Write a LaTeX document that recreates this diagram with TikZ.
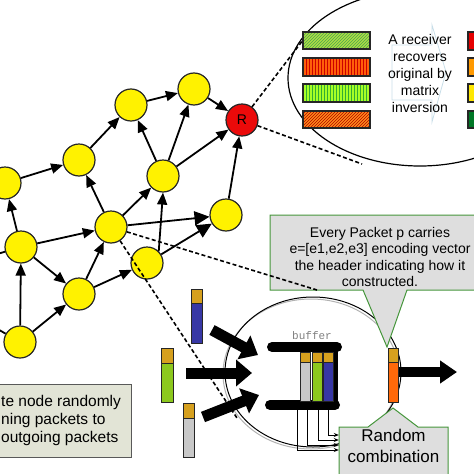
\documentclass[tikz,border=0pt]{standalone}
\usepackage{fontspec}
\setmainfont{Liberation Sans}
\setmonofont{Liberation Mono}
\usetikzlibrary{arrows.meta,patterns}

\definecolor{nodeyellow}{RGB}{255,242,0}
\definecolor{rcvred}{RGB}{235,10,10}
\definecolor{pgold}{RGB}{214,160,30}
\definecolor{pblue}{RGB}{55,55,165}
\definecolor{pgreen}{RGB}{140,200,30}
\definecolor{pgray}{RGB}{200,200,200}
\definecolor{porange}{RGB}{255,105,10}
\definecolor{callfill}{RGB}{222,222,222}
\definecolor{callgreen}{RGB}{70,150,60}
\definecolor{notefill}{RGB}{226,228,214}
\definecolor{faintblue}{RGB}{200,222,232}

\begin{document}
\begin{tikzpicture}[x=1pt, y=-1pt,
  nd/.style={circle, draw=black!85, fill=nodeyellow, line width=1.2pt, minimum size=32pt, inner sep=0pt},
  edge/.style={line width=1.8pt, -{Triangle[length=12pt,width=10pt]}},
  bigedge/.style={line width=1.8pt, -{Triangle[length=15pt,width=14pt]}},
  zoomline/.style={line width=1.6pt, dash pattern=on 4pt off 2.5pt},
  pkt/.style={draw=black!85, line width=0.8pt},
  fat/.style={line width=11pt, -{Triangle[length=16pt,width=26pt]}},
  bus/.style={line width=0.9pt, -{Stealth[length=5pt,width=4pt]}},
  bar/.style={draw=black!85, line width=1.2pt}]

\useasboundingbox (0,0) rectangle (474,474);

% zoom views
\draw[line width=1.2pt] (420,78) ellipse [x radius=132pt, y radius=88pt];
\draw[gray!60, line width=1pt] (311,374) ellipse [x radius=88pt, y radius=75pt];
\draw[line width=1pt] (313,372) ellipse [x radius=88pt, y radius=75pt];

% decoded packets in the receiver view
\draw[faintblue, line width=0.8pt] (392,45) -- (432,45) -- (432,25) -- (446,72) -- (432,122) -- (432,100) -- (392,100) -- cycle;
\fill[yellow!60!green!80] (303,32) rectangle (370,49);
\fill[pattern=north east lines, pattern color=green!50!black!70] (303,32) rectangle (370,49);
\draw[bar] (303,32) rectangle (370,49);
\fill[porange!90!red] (303,58) rectangle (370,76);
\fill[pattern=vertical lines, pattern color=red!80!black] (303,58) rectangle (370,76);
\draw[bar] (303,58) rectangle (370,76);
\fill[green!40!yellow!85] (303,84) rectangle (370,102);
\fill[pattern=vertical lines, pattern color=green!60!black!80] (303,84) rectangle (370,102);
\draw[bar] (303,84) rectangle (370,102);
\fill[orange!90] (303,111) rectangle (370,128);
\fill[pattern=north east lines, pattern color=red!70!black] (303,111) rectangle (370,128);
\draw[bar] (303,111) rectangle (370,128);
\node[align=center, font=\fontsize{14}{17}\selectfont] (inv) at (420,73) {A receiver\\recovers\\original by\\matrix\\inversion};
\draw[bar, fill=red!90!black] (468,32) rectangle (482,50);
\draw[bar, fill=orange!80!yellow] (468,58) rectangle (482,76);
\draw[bar, fill=yellow!90!orange] (468,84) rectangle (482,102);
\draw[bar, fill=green!45!black!70!teal] (468,111) rectangle (482,128);

% callout above the node view
\draw[callgreen, fill=callfill, line width=1pt] (270,215) -- (484,215) -- (484,290) -- (407,290) -- (387,347) -- (363,290) -- (270,290) -- cycle;
\node[align=center, font=\fontsize{14}{16.5}\selectfont] (hdr) at (380,257) {Every Packet p carries\\e=[e1,e2,e3] encoding vector\\the header indicating how it\\constructed.};

% network
\node[nd] (a) at (5,183) {};
\node[nd] (b) at (79,160) {};
\node[nd] (c) at (131,105) {};
\node[nd] (d) at (194,89) {};
\node[nd, fill=rcvred, font=\fontsize{14}{14}\selectfont] (r) at (242,120) {R};
\node[nd] (e) at (163,176) {};
\node[nd] (f) at (111,227) {};
\node[nd] (g) at (226,215) {};
\node[nd] (h) at (21,247) {};
\node[nd] (k) at (147,263) {};
\node[nd] (m) at (79,294) {};
\node[nd] (n) at (20,342) {};
\coordinate (l1) at (-30,262);
\coordinate (l2) at (-25,316);

\draw[edge] (a) -- (b);
\draw[edge] (b) -- (c);
\draw[edge] (c) -- (d);
\draw[edge] (d) -- (r);
\draw[edge] (e) -- (c);
\draw[edge] (e) -- (d);
\draw[edge] (e) -- (r);
\draw[edge] (g) -- (r);
\draw[edge] (f) -- (b);
\draw[edge] (f) -- (e);
\draw[edge] (k.north east) -- (e.south);
\draw[bigedge] (f) -- (g);
\draw[bigedge] (k) -- (g);
\draw[edge] (h) -- (f);
\draw[edge] (h) -- (m);
\draw[edge] (m) -- (f);
\draw[edge] (m) -- (k);
\draw[edge] (n) -- (h);
\draw[edge] (n) -- (m);
\draw[edge] (h) -- (a);
\draw[line width=1.8pt] (l1) -- (h);
\draw[line width=1.8pt] (l2) -- (n);

% dashed zoom lines
\coordinate (zr1) at (303,40);
\coordinate (zr2) at (362,164);
\coordinate (zf1) at (317,290);
\coordinate (zf2) at (237,418);
\draw[zoomline] (r) -- (zr1);
\draw[zoomline] (r) -- (zr2);
\draw[zoomline] (f) -- (zf1);
\draw[zoomline] (f) -- (zf2);

% incoming packets
\draw[pkt, fill=pblue] (191,289) rectangle (202,343);
\draw[pkt, fill=pgold] (191,289) rectangle (202,303);
\draw[pkt, fill=pgreen] (161,348) rectangle (173,402);
\draw[pkt, fill=pgold] (161,348) rectangle (173,363);
\draw[pkt, fill=pgray] (183,403) rectangle (194,457);
\draw[pkt, fill=pgold] (183,403) rectangle (194,418);
\draw[fat] (212,330) -- (258,355);
\draw[fat] (186,373) -- (252,373);
\draw[fat] (203,417) -- (259,395);

% buffer
\node[font=\ttfamily\fontsize{11}{11}\selectfont, text=gray] (buf) at (312,336) {buffer};
\draw[line width=10pt, line cap=round] (272,347) -- (337,347);
\draw[line width=10pt, line cap=round] (270,405) -- (335,405);
\draw[line width=6pt] (335,347) -- (335,405);
\draw[pkt, fill=pgray] (300,352) rectangle (310,401);
\draw[pkt, fill=pgold] (300,352) rectangle (310,362);
\draw[pkt, fill=pgreen] (312,352) rectangle (322,401);
\draw[pkt, fill=pgold] (312,352) rectangle (322,362);
\draw[pkt, fill=pblue] (323,352) rectangle (333,401);
\draw[pkt, fill=pgold] (323,352) rectangle (333,362);

% outgoing packet
\draw[pkt, fill=porange] (388,348) rectangle (398,402);
\draw[pkt, fill=pgold] (388,348) rectangle (398,362);
\draw[line width=10pt, -{Triangle[length=17pt,width=22pt]}] (399,372) -- (457,372);

% random combination
\draw[callgreen, fill=callfill, line width=1pt] (339,480) -- (339,427) -- (368,427) -- (393,408) -- (418,427) -- (448,427) -- (448,480);
\node[align=center, minimum width=109pt, inner sep=0pt, font=\fontsize{17}{21}\selectfont] (rc) at (393.5,446) {Random\\combination};
\coordinate (b1) at (297,410);
\coordinate (b2) at (307,410);
\coordinate (b3) at (318,410);
\coordinate (b4) at (328,410);
\draw[bus] (b1) |- ([yshift=-4pt]rc.west);
\draw[bus] (b2) |- ([yshift=1pt]rc.west);
\draw[bus] (b3) |- ([yshift=6pt]rc.west);
\draw[bus] (b4) |- ([yshift=11pt]rc.west);

% note on the left
\draw[gray!70!black, fill=notefill, line width=0.8pt] (-10,384) rectangle (131,457);
\node[anchor=west, align=left, inner sep=0pt, font=\fontsize{15.5}{18}\selectfont] (note) at (1,420) {te node randomly\\ning packets to\\outgoing packets};
\end{tikzpicture}
\end{document}
